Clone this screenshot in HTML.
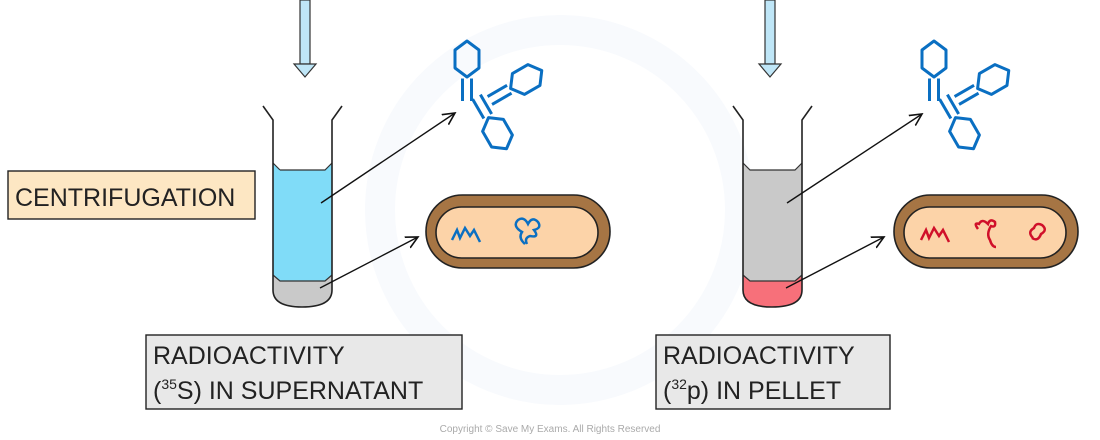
<!DOCTYPE html>
<html><head><style>
body{margin:0;background:#fff;}
svg{display:block;}
text{font-family:"Liberation Sans",sans-serif;fill:#222;}
</style></head><body>
<svg width="1100" height="440" viewBox="0 0 1100 440">
<defs>
<g id="ph" fill="none" stroke="#0a6fc2" stroke-width="2" stroke-linejoin="round">
<polygon points="0,-26 8,-20 8,-8 0,-2 -8,-8 -8,-20"/>
<line x1="-3" y1="-1" x2="-3" y2="14"/><line x1="3" y1="-1" x2="3" y2="14"/>
</g>
<marker id="ah" markerWidth="14" markerHeight="14" refX="12" refY="7" orient="auto" markerUnits="userSpaceOnUse"><path d="M0,1 L12,7 L0,13" fill="none" stroke="#111" stroke-width="1.6"/></marker>
</defs>
<!-- watermark -->
<circle cx="560" cy="210" r="180" fill="none" stroke="#f8fafd" stroke-width="30"/>
<!-- LEFT -->
<rect x="300" y="0" width="10" height="64" fill="#bfe6f7" stroke="#333" stroke-width="1.2"/>
<path d="M294,64 L316,64 L305,77 Z" fill="#bfe6f7" stroke="#333" stroke-width="1.2"/>
<path d="M273,163 L280,170 L325,170 L332,163 L332,275 L325,281 L280,281 L273,275 Z" fill="#80dcf8"/>
<path d="M273,275 L280,281 L325,281 L332,275 L332,290 Q332,307 302,307 Q273,307 273,290 Z" fill="#c9c9c9"/>
<path d="M280,170 L325,170 L332,163 M273,163 L280,170 M273,275 L280,281 L325,281 L332,275" fill="none" stroke="#333" stroke-width="1.2"/>
<path d="M263,106 L273,120 L273,290 Q273,307 302,307 Q332,307 332,290 L332,120 L342,106" fill="none" stroke="#222" stroke-width="1.6"/>
<line x1="321" y1="203" x2="455" y2="113" stroke="#111" stroke-width="1.4" marker-end="url(#ah)"/>
<line x1="320" y1="288" x2="418" y2="237" stroke="#111" stroke-width="1.4" marker-end="url(#ah)"/>
<use href="#ph" transform="translate(467,80) scale(1.5)"/>
<use href="#ph" transform="translate(508,90) rotate(60) scale(1.5)"/>
<use href="#ph" transform="translate(487,115) rotate(150) scale(1.5)"/>
<rect x="426" y="195" width="184" height="73" rx="36.5" fill="#a67544" stroke="#222" stroke-width="1.6"/>
<rect x="436" y="207" width="162" height="51" rx="25.5" fill="#fcd3a8" stroke="#222" stroke-width="1.6"/>
<path d="M452,240 L457,230 L460,238 L465,228 L470,236 L474,230 L480,242" fill="none" stroke="#0a6fc2" stroke-width="2.5"/>
<path d="M525,244 Q518,238 522,232 Q512,226 518,220 Q524,216 528,224 Q532,216 538,222 Q542,228 534,230 Q540,238 530,236 Q524,238 527,244" fill="none" stroke="#0a6fc2" stroke-width="2.5"/>
<!-- RIGHT -->
<rect x="765" y="0" width="10" height="64" fill="#bfe6f7" stroke="#333" stroke-width="1.2"/>
<path d="M759,64 L781,64 L770,77 Z" fill="#bfe6f7" stroke="#333" stroke-width="1.2"/>
<path d="M743,163 L750,170 L795,170 L802,163 L802,275 L795,281 L750,281 L743,275 Z" fill="#c9c9c9"/>
<path d="M743,275 L750,281 L795,281 L802,275 L802,290 Q802,307 772,307 Q743,307 743,290 Z" fill="#f7707a"/>
<path d="M743,163 L750,170 L795,170 L802,163 M743,275 L750,281 L795,281 L802,275" fill="none" stroke="#333" stroke-width="1.2"/>
<path d="M733,106 L743,120 L743,290 Q743,307 772,307 Q802,307 802,290 L802,120 L812,106" fill="none" stroke="#222" stroke-width="1.6"/>
<line x1="787" y1="203" x2="922" y2="114" stroke="#111" stroke-width="1.4" marker-end="url(#ah)"/>
<line x1="786" y1="288" x2="884" y2="237" stroke="#111" stroke-width="1.4" marker-end="url(#ah)"/>
<use href="#ph" transform="translate(934,80) scale(1.5)"/>
<use href="#ph" transform="translate(975,90) rotate(60) scale(1.5)"/>
<use href="#ph" transform="translate(954,115) rotate(150) scale(1.5)"/>
<rect x="894" y="195" width="184" height="73" rx="36.5" fill="#a67544" stroke="#222" stroke-width="1.6"/>
<rect x="904" y="207" width="162" height="51" rx="25.5" fill="#fcd3a8" stroke="#222" stroke-width="1.6"/>
<path d="M921,240 L926,230 L929,238 L934,228 L939,236 L943,230 L949,242" fill="none" stroke="#d0102a" stroke-width="2.5"/>
<path d="M978,229 Q973,222 979,224 Q982,218 988,224 Q990,218 995,222 Q996,228 991,226 Q986,234 990,240 Q992,247 996,247" fill="none" stroke="#d0102a" stroke-width="2.5"/>
<path d="M1033,238 Q1027,232 1034,228 Q1036,222 1042,225 Q1048,230 1041,234 Q1038,242 1032,238" fill="none" stroke="#d0102a" stroke-width="2.5"/>
<!-- LABELS -->
<rect x="8" y="171" width="247" height="48" fill="#fde7c3" stroke="#222" stroke-width="1.4"/>
<text x="15" y="206" font-size="25">CENTRIFUGATION</text>
<rect x="146" y="335" width="316" height="74" fill="#e8e8e8" stroke="#222" stroke-width="1.4"/>
<text x="153" y="364" font-size="25">RADIOACTIVITY</text>
<text x="153" y="399" font-size="25">(<tspan font-size="14" dy="-10">35</tspan><tspan dy="10">S) IN SUPERNATANT</tspan></text>
<rect x="656" y="335" width="234" height="74" fill="#e8e8e8" stroke="#222" stroke-width="1.4"/>
<text x="663" y="364" font-size="25">RADIOACTIVITY</text>
<text x="663" y="399" font-size="25">(<tspan font-size="14" dy="-10">32</tspan><tspan dy="10">p) IN PELLET</tspan></text>
<text x="550" y="432" font-size="10" text-anchor="middle" style="fill:#aaa">Copyright © Save My Exams. All Rights Reserved</text>
</svg>
</body></html>
